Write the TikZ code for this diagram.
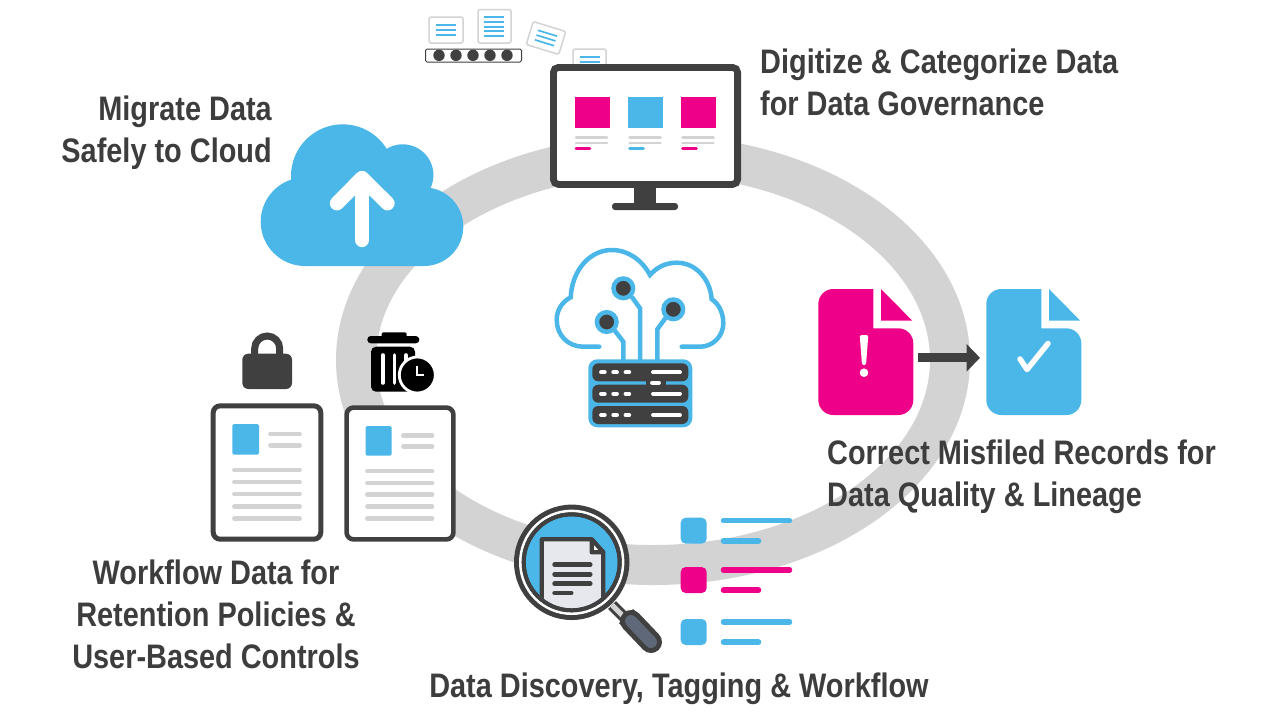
\documentclass[tikz,border=0pt]{standalone}
\usepackage{fontspec}
\setmainfont{Liberation Sans}[FakeStretch=0.85]
\usetikzlibrary{arrows.meta}
\definecolor{iconblue}{HTML}{4BB6E8}
\definecolor{iconpink}{HTML}{EE0088}
\definecolor{icondark}{HTML}{404040}
\definecolor{ringgrey}{HTML}{D3D3D3}
\definecolor{textdark}{HTML}{3D3D3D}
\definecolor{pagegrey}{HTML}{E6E8EE}
\definecolor{gripgrey}{HTML}{5F6878}
\tikzset{
  heading/.style={font=\fontsize{34}{42}\selectfont\bfseries, text=textdark, inner sep=0pt},
  scanline/.style={iconblue, line width=1.7pt},
  greybar/.style={ringgrey, line width=4.8pt, line cap=round},
  thinbar/.style={line width=2.8pt, line cap=round},
  listbar/.style={line width=5.5pt, line cap=round},
  paper/.style={draw=ringgrey, fill=white, line width=1.5pt, rounded corners=2pt},
  recordsheet/.style={draw=icondark, fill=white, line width=5pt, rounded corners=7pt},
  serverbar/.style={fill=icondark, rounded corners=6pt},
  whitedot/.style={white, line width=3.8pt, line cap=round},
  circuit/.style={iconblue, line width=4.5pt}
}
\begin{document}
\begin{tikzpicture}[x=1pt,y=-1pt]
\useasboundingbox (0,0) rectangle (1281,721);

% Ring
\draw[ringgrey, line width=40pt] (653,360) ellipse [x radius=297pt, y radius=205pt];

% Papers over the belt
\draw[paper] (429,17) rectangle (463,43);
\foreach \y in {25,30,35} \draw[scanline] (436,\y) -- (456,\y);
\draw[paper] (478,9.5) rectangle (511,43);
\foreach \y in {17,21.7,26.7,31.3,36} \draw[scanline] (484,\y) -- (504,\y);
\begin{scope}[shift={(546,38)}, rotate=-17]
  \draw[paper] (-17,-12) rectangle (17,12);
  \foreach \y in {-5,0,5} \draw[scanline] (-10,\y) -- (10,\y);
\end{scope}
\draw[paper] (573,49) rectangle (606,80);
\foreach \y in {57,61.7} \draw[scanline] (580,\y) -- (600,\y);

% Belt
\draw[icondark, fill=white, line width=1pt, rounded corners=1.5pt] (425.5,49) rectangle (521.5,62);
\foreach \x in {439,456,473,490,507} \fill[icondark] (\x,55.3) circle[radius=5.7pt];

% Monitor
\fill[icondark] (634,186) rectangle (656,205);
\fill[icondark, rounded corners=3pt] (612,203) rectangle (678,210);
\draw[icondark, fill=white, line width=6.8pt, rounded corners=5pt] (553.4,67.4) rectangle (737.6,184.4);
\foreach \x/\c in {574.5/iconpink,628/iconblue,681/iconpink} {
  \fill[\c] (\x,97) rectangle ++(35,30.7);
  \draw[ringgrey, thinbar] (\x+1.5,137.3) -- ++(31,0);
  \draw[ringgrey, thinbar] (\x+1.5,143) -- ++(31,0);
  \draw[\c, thinbar] (\x+1.5,148.7) -- ++(14,0);
}

% Upload cloud
\fill[iconblue] (305,221.7) circle[radius=44.3pt];
\fill[iconblue] (342.7,176) circle[radius=51.7pt];
\fill[iconblue] (402.7,175) circle[radius=30.7pt];
\fill[iconblue] (424,226.7) circle[radius=39.3pt];
\fill[iconblue] (305,222) -- (342,176) -- (402,175) -- (424,226) -- (424,266) -- (305,266) -- cycle;
\draw[white, line width=14.3pt, line cap=round] (362,240) -- (362,182);
\draw[white, line width=14.3pt, line cap=round, line join=round] (337,203.3) -- (362,178) -- (387.5,203.3);

% Cloud with circuit
\draw[circuit, line cap=round] (599.3,346.7) -- (583.3,346.7)
  .. controls (568,346.7) and (556.7,335) .. (556.7,320)
  .. controls (556.7,310) and (562,302) .. (570.7,297.3)
  .. controls (572,270) and (590,250) .. (611.7,250)
  .. controls (628,250) and (642,260) .. (650,275)
  .. controls (657,267) and (666,262.7) .. (676.7,262.7)
  .. controls (695,262.7) and (710,278) .. (711.7,299.3)
  .. controls (718,303) and (723.3,312) .. (723.3,323.3)
  .. controls (723.3,336) and (713,346.7) .. (700,346.7) -- (681.7,346.7);
\draw[circuit] (614.3,330) -- (623.3,341.7) -- (623.3,362);
\draw[circuit] (631.7,296.7) -- (640,308.3) -- (640,362);
\draw[circuit] (666,317.3) -- (657.3,329.3) -- (657.3,362);
\foreach \x/\y in {623.3/288.3,606.7/322,673.3/309.3}
  \draw[iconblue, fill=icondark, line width=4.5pt] (\x,\y) circle[radius=9.8pt];

% Server
\fill[iconblue, rounded corners=9pt] (588.3,359.3) rectangle (692.3,427.3);
\foreach \y in {363.3,384.7,406} {
  \draw[serverbar, draw=none] (592.3,\y) rectangle ++(96,18);
  \foreach \x in {601,613.2,625.5} \draw[whitedot] (\x,\y+9) -- ++(3.8,0);
  \draw[whitedot] (653,\y+9) -- (680,\y+9);
}
\fill[icondark] (646,380) rectangle (666,386);
\draw[whitedot] (652,382.7) -- (659,382.7);

% Lock and left record
\draw[icondark, line width=7pt] (254.7,358) -- (254.7,348.5)
  .. controls (254.7,341.6) and (260.3,336) .. (267.2,336)
  .. controls (274.1,336) and (279.7,341.6) .. (279.7,348.5) -- (279.7,358);
\fill[icondark, rounded corners=6pt] (242.3,353.7) rectangle (292,389);
\draw[recordsheet] (213.2,405.8) rectangle (320.8,539.2);
\fill[iconblue, rounded corners=1.5pt] (232.3,424) rectangle (259,454.7);
\draw[greybar] (270.5,434) -- (299.5,434);
\draw[greybar] (270.5,445.3) -- (299.5,445.3);
\foreach \y in {470,482,494,506.3,518.3} \draw[greybar] (234.5,\y) -- (299.5,\y);

% Bin with clock and right record
\fill[black, rounded corners=2pt] (381.7,332.3) rectangle (406.7,338);
\fill[black, rounded corners=3.5pt] (367.3,336) rectangle (419.3,343.3);
\fill[black, rounded corners=5pt] (371,346.7) -- (415,346.7) -- (415,391.7) -- (371,391.7) -- cycle;
\foreach \x in {382.7,394.3,406} \draw[white, line width=3.6pt, line cap=round] (\x,355) -- (\x,383);
\fill[black, draw=white, line width=2.8pt] (417.3,375) circle[radius=18pt];
\draw[white, line width=2pt] (417.3,366) -- (417.3,375) -- (424,375);
\draw[recordsheet, line width=4.6pt] (346.6,407.6) rectangle (453.4,539.4);
\fill[iconblue, rounded corners=1.5pt] (365.7,426) rectangle (391.7,455.7);
\draw[greybar] (403.5,435.7) -- (432,435.7);
\draw[greybar] (403.5,446.3) -- (432,446.3);
\foreach \y in {471,483,494.7,506.7,518.7} \draw[greybar] (367.5,\y) -- (432,\y);

% Magnifier handle
\draw[icondark, line width=11pt] (612,605) -- (624,617);
\draw[ringgrey, line width=5pt] (612,605) -- (624,617);
\draw[icondark, line width=22pt, line cap=round] (631,621) -- (651,642);
\draw[icondark, line width=20pt] (626,616) -- (634,624);
\draw[gripgrey, line width=12pt, line cap=round] (631,621) -- (651,642);

% Magnifier lens
\fill[icondark] (571.7,562.3) circle[radius=57.7pt];
\fill[white] (571.7,562.3) circle[radius=52.7pt];
\fill[icondark] (571.7,562.3) circle[radius=50pt];
\fill[iconblue] (571.7,562.3) circle[radius=46pt];
\begin{scope}
  \clip (571.7,562.3) circle[radius=46pt];
  \draw[icondark, fill=pagegrey, line width=4.2pt, line join=round] (541.7,620) -- (541.7,539.3) -- (591.7,539.3) -- (603.3,552.3) -- (603.3,620) -- cycle;
  \draw[icondark, fill=white, line width=4.2pt, line join=round] (591.7,539.3) -- (591.7,552.3) -- (603.3,552.3) -- cycle;
\end{scope}
\draw[icondark, line width=4pt] (571.7,562.3) circle[radius=48pt];
\foreach \y/\e in {564.7/592.3,574.3/592.3,583.7/592.3,593/573.3}
  \draw[icondark, line width=4.5pt, line cap=round] (554.5,\y) -- (\e-2,\y);

% Result list
\foreach \y/\c in {517.7/iconblue,567/iconpink,619/iconblue} {
  \fill[\c, rounded corners=5pt] (680.7,\y) rectangle ++(26,26);
  \draw[\c, listbar] (723.5,\y+3) -- (789.5,\y+3);
  \draw[\c, listbar] (723.5,\y+23.2) -- (758.5,\y+23.2);
}

% Files and fix
\foreach \d/\c in {0/iconpink,168/iconblue} {
  \begin{scope}[shift={(\d,0)}]
    \fill[\c, rounded corners=15pt] (873.3,289) -- (818.3,289) -- (818.3,415) -- (913.3,415) -- (913.3,328.3) [sharp corners] -- (873.3,328.3) -- cycle;
    \fill[\c] (881,289) -- (912.3,320.7) -- (881,320.7) -- cycle;
  \end{scope}
}
\fill[white, rounded corners=1.5pt] (859.7,335) -- (868.3,335) -- (866,365) -- (862,365) -- cycle;
\fill[white] (864,372.7) circle[radius=4.3pt];
\draw[white, line width=5.5pt, line cap=round, line join=round] (1020,359) -- (1027,369.5) -- (1048,343.5);
\coordinate (faultfile) at (918.3,357.8);
\coordinate (cleanfile) at (980,357.8);
\draw[-{Triangle[length=13.5pt, width=27pt]}, icondark, line width=9pt] (faultfile) -- (cleanfile);

% Labels
\node[heading, anchor=north east, align=right] (migrate) at (272,96) {Migrate Data\\Safely to Cloud};
\node[heading, anchor=north west, align=left] (digitize) at (760,49) {Digitize \& Categorize Data\\for Data Governance};
\node[heading, anchor=north west, align=left] (correct) at (827,440) {Correct Misfiled Records for\\Data Quality \& Lineage};
\node[heading, anchor=north, align=center] (workflow) at (216,560) {Workflow Data for\\Retention Policies \&\\User-Based Controls};
\node[heading, anchor=north] (discovery) at (679,673) {Data Discovery, Tagging \& Workflow};

\end{tikzpicture}
\end{document}
